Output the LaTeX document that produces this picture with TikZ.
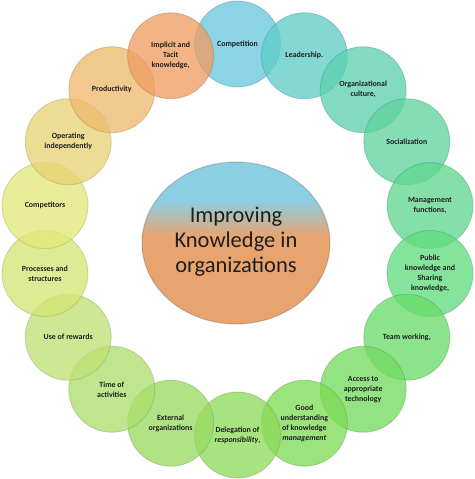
\documentclass[tikz,border=0pt]{standalone}
\usepackage{fontspec}
\setmainfont{Carlito}
\usetikzlibrary{shapes.geometric}
\definecolor{k1}{RGB}{104,200,222}
\definecolor{k2}{RGB}{94,205,200}
\definecolor{k3}{RGB}{93,207,175}
\definecolor{k4}{RGB}{95,211,159}
\definecolor{k5}{RGB}{95,215,143}
\definecolor{k6}{RGB}{96,220,126}
\definecolor{k7}{RGB}{105,219,106}
\definecolor{k8}{RGB}{115,219,96}
\definecolor{k9}{RGB}{124,219,86}
\definecolor{k10}{RGB}{141,219,90}
\definecolor{k11}{RGB}{154,219,96}
\definecolor{k12}{RGB}{172,222,110}
\definecolor{k13}{RGB}{191,225,116}
\definecolor{k14}{RGB}{213,230,118}
\definecolor{k15}{RGB}{228,232,120}
\definecolor{k16}{RGB}{232,210,116}
\definecolor{k17}{RGB}{237,185,110}
\definecolor{k18}{RGB}{239,157,98}
\definecolor{cblue}{RGB}{140,206,226}
\definecolor{corange}{RGB}{232,164,111}
\definecolor{txt}{RGB}{30,30,30}
\pgfdeclareverticalshading{centershade}{100bp}{color(0bp)=(corange); color(52bp)=(corange); color(63bp)=(cblue); color(100bp)=(cblue)}
\begin{document}
\begin{tikzpicture}[x=1pt,y=1pt,
  ring/.style={circle, minimum size=86pt, inner sep=0pt, fill=#1, draw=#1!70!black,
    fill opacity=0.77, draw opacity=0.35, line width=0.9pt},
  lbl/.style={align=center, font=\fontsize{7.9}{10}\selectfont\bfseries, text=txt, inner sep=0pt},
  hub/.style={ellipse, minimum width=188pt, minimum height=162pt, inner sep=0pt,
    shade, shading=centershade, draw=black, draw opacity=0.15, line width=1.2pt},
  hubtext/.style={align=center, font=\fontsize{22.5}{25}\selectfont, text=txt, inner sep=0pt}
]
\useasboundingbox (0,0) rectangle (474,479);
\fill[white] (0,0) rectangle (474,479);
\node[hub] (hub) at (236,236) {};
\node[hubtext] (hubtxt) at (236,237) {Improving\\Knowledge in\\organizations};
\begin{scope}[shift={(237.5,239.5)}]
\node[ring=k1] (c1) at (90:195.5) {};
\node[ring=k2] (c2) at (70:195.5) {};
\node[ring=k3] (c3) at (50:195.5) {};
\node[ring=k4] (c4) at (30:195.5) {};
\node[ring=k5] (c5) at (10:195.5) {};
\node[ring=k6] (c6) at (-10:195.5) {};
\node[ring=k7] (c7) at (-30:195.5) {};
\node[ring=k8] (c8) at (-50:195.5) {};
\node[ring=k9] (c9) at (-70:195.5) {};
\node[ring=k10] (c10) at (-90:195.5) {};
\node[ring=k11] (c11) at (-110:195.5) {};
\node[ring=k12] (c12) at (-130:195.5) {};
\node[ring=k13] (c13) at (-150:195.5) {};
\node[ring=k14] (c14) at (-170:195.5) {};
\node[ring=k15] (c15) at (170:195.5) {};
\node[ring=k16] (c16) at (150:195.5) {};
\node[ring=k17] (c17) at (130:195.5) {};
\node[ring=k18] (c18) at (110:195.5) {};
\node[lbl] (t1) at (c1) {Competition};
\node[lbl] (t2) at (c2) {Leadership.};
\node[lbl] (t3) at (c3) {Organizational\\culture,};
\node[lbl] (t4) at (c4) {Socialization};
\node[lbl] (t5) at (c5) {Management\\functions,};
\node[lbl] (t6) at (c6) {Public\\knowledge and\\Sharing\\knowledge,};
\node[lbl] (t7) at (c7) {Team working,};
\node[lbl] (t8) at (c8) {Access to\\appropriate\\technology};
\node[lbl] (t9) at (c9) {Good\\understanding\\of knowledge\\\textit{management}};
\node[lbl] (t10) at (c10) {Delegation of\\\textit{responsibility},};
\node[lbl] (t11) at (c11) {External\\organizations};
\node[lbl] (t12) at (c12) {Time of\\activities};
\node[lbl] (t13) at (c13) {Use of rewards};
\node[lbl] (t14) at (c14) {Processes and\\structures};
\node[lbl] (t15) at (c15) {Competitors};
\node[lbl] (t16) at (c16) {Operating\\independently};
\node[lbl] (t17) at (c17) {Productivity};
\node[lbl] (t18) at (c18) {Implicit and\\Tacit\\knowledge,};
\end{scope}
\end{tikzpicture}
\end{document}
